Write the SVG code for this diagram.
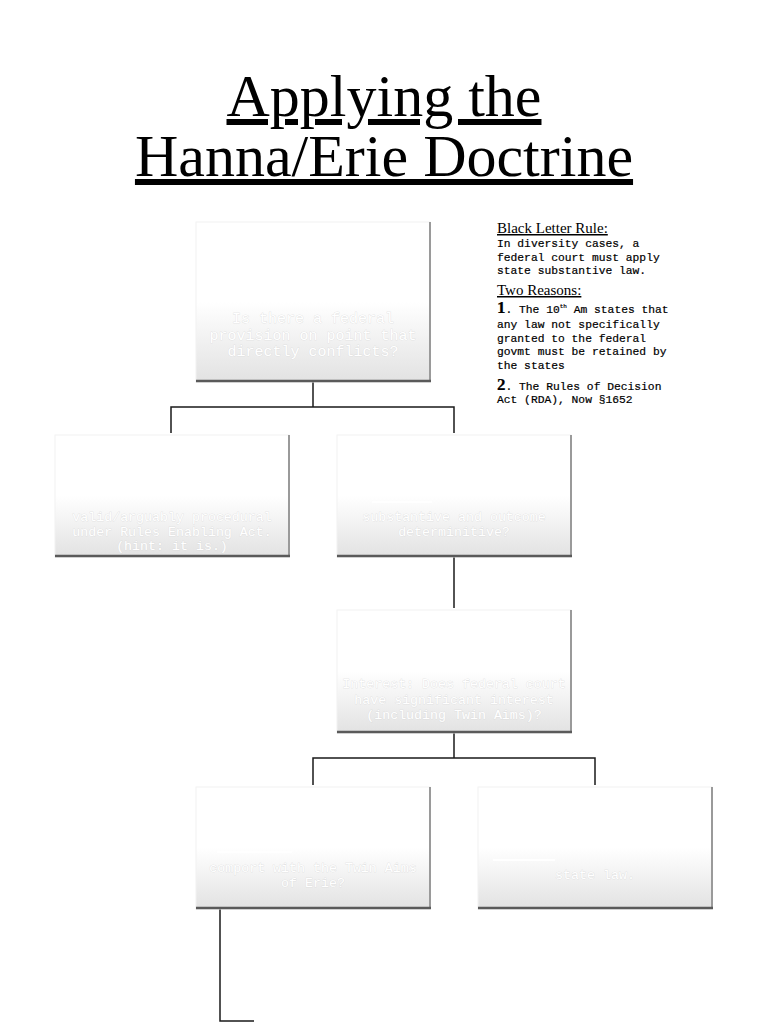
<svg xmlns="http://www.w3.org/2000/svg" width="768" height="1024" viewBox="0 0 768 1024">
<defs>
<linearGradient id="boxg" x1="0" y1="0" x2="0" y2="1">
<stop offset="0" stop-color="#ffffff"/>
<stop offset="0.5" stop-color="#ffffff"/>
<stop offset="1" stop-color="#e2e2e2"/>
</linearGradient>
</defs>
<style>
.title{font-family:"Liberation Serif","Times New Roman",serif;font-size:60px;fill:#000;text-decoration:underline;}
.box{fill:url(#boxg);stroke:#f2f2f2;stroke-width:1;}
.shadowR{stroke:#9a9a9a;stroke-width:2;}
.shadowB{stroke:#5a5a5a;stroke-width:2.5;}
.bt{font-family:"Liberation Mono","Courier New",monospace;font-size:13.3px;fill:#ffffff;stroke:#d6d6d6;stroke-width:0.5;paint-order:stroke;text-anchor:middle;}
.bt1{font-size:15px;}
.ul{stroke:#ffffff;stroke-width:2;}
.conn{stroke:#1a1a1a;stroke-width:1.5;fill:none;}
.hd{font-family:"Liberation Serif","Times New Roman",serif;font-size:15px;fill:#000;text-decoration:underline;}
.mono{font-family:"Liberation Mono","Courier New",monospace;font-size:11.3px;fill:#000;stroke:#000;stroke-width:0.2;}
.num{font-family:"Liberation Serif","Times New Roman",serif;font-size:17px;font-weight:bold;}
</style>
<rect width="768" height="1024" fill="#ffffff"/>
<g id="title">
<text class="title" x="384" y="116" text-anchor="middle">Applying the</text>
<text class="title" x="384" y="176" text-anchor="middle">Hanna/Erie Doctrine</text>
</g>
<g id="rule-panel">
<text class="hd" x="497" y="233">Black Letter Rule:</text>
<text class="mono" x="497" y="247">In diversity cases, a</text>
<text class="mono" x="497" y="261">federal court must apply</text>
<text class="mono" x="497" y="274">state substantive law.</text>
<text class="hd" x="497" y="295">Two Reasons:</text>
<text class="mono" x="497" y="313"><tspan class="num">1</tspan>. The 10<tspan font-size="6" dy="-5">th</tspan><tspan dy="5"> Am states that</tspan></text>
<text class="mono" x="497" y="328">any law not specifically</text>
<text class="mono" x="497" y="342">granted to the federal</text>
<text class="mono" x="497" y="355">govmt must be retained by</text>
<text class="mono" x="497" y="369">the states</text>
<text class="mono" x="497" y="390"><tspan class="num">2</tspan>. The Rules of Decision</text>
<text class="mono" x="497" y="403">Act (RDA), Now §1652</text>
</g>
<g id="connectors">
<polyline class="conn" points="313,382 313,407"/>
<polyline class="conn" points="171,433 171,407 454,407 454,433"/>
<polyline class="conn" points="454,557 454,608" stroke-width="2.2"/>
<polyline class="conn" points="454,733 454,758"/>
<polyline class="conn" points="313,785 313,758 595,758 595,785"/>
<polyline class="conn" points="220,909 220,1021 254,1021"/>
</g>
<g id="node-federal-provision">
<rect class="box" x="196" y="222" width="234" height="160"/>
<line class="shadowR" x1="430" y1="222" x2="430" y2="382"/>
<line class="shadowB" x1="196" y1="381" x2="431" y2="381"/>
<text class="bt bt1" x="313" y="323">Is there a federal</text>
<text class="bt bt1" x="313" y="340">provision on point that</text>
<text class="bt bt1" x="313" y="356">directly conflicts?</text>
</g>
<g id="node-valid-procedural">
<rect class="box" x="55" y="435" width="234" height="122"/>
<line class="shadowR" x1="289" y1="435" x2="289" y2="557"/>
<line class="shadowB" x1="55" y1="556" x2="290" y2="556"/>
<text class="bt" x="172" y="521">valid/arguably procedural</text>
<text class="bt" x="172" y="536">under Rules Enabling Act.</text>
<text class="bt" x="172" y="550">(hint: it is.)</text>
</g>
<g id="node-substantive">
<rect class="box" x="337" y="435" width="234" height="122"/>
<line class="shadowR" x1="571" y1="435" x2="571" y2="557"/>
<line class="shadowB" x1="337" y1="556" x2="572" y2="556"/>
<line class="ul" x1="372" y1="502" x2="432" y2="502"/>
<text class="bt" x="454" y="521">substantive and outcome</text>
<text class="bt" x="454" y="536">determinitive?</text>
</g>
<g id="node-interest">
<rect class="box" x="337" y="610" width="234" height="123"/>
<line class="shadowR" x1="571" y1="610" x2="571" y2="733"/>
<line class="shadowB" x1="337" y1="732" x2="572" y2="732"/>
<text class="bt" x="454" y="688">Interest: Does federal court</text>
<text class="bt" x="454" y="704">have significant interest</text>
<text class="bt" x="454" y="719">(including Twin Aims)?</text>
</g>
<g id="node-twin-aims">
<rect class="box" x="196" y="787" width="234" height="122"/>
<line class="shadowR" x1="430" y1="787" x2="430" y2="909"/>
<line class="shadowB" x1="196" y1="908" x2="431" y2="908"/>
<line class="ul" x1="217" y1="852" x2="292" y2="852"/>
<text class="bt" x="313" y="872">comport with the Twin Aims</text>
<text class="bt" x="313" y="887">of Erie?</text>
</g>
<g id="node-state-law">
<rect class="box" x="478" y="787" width="234" height="122"/>
<line class="shadowR" x1="712" y1="787" x2="712" y2="909"/>
<line class="shadowB" x1="478" y1="908" x2="713" y2="908"/>
<line class="ul" x1="493" y1="860" x2="555" y2="860"/>
<text class="bt" x="595" y="879">state law.</text>
</g>
</svg>
